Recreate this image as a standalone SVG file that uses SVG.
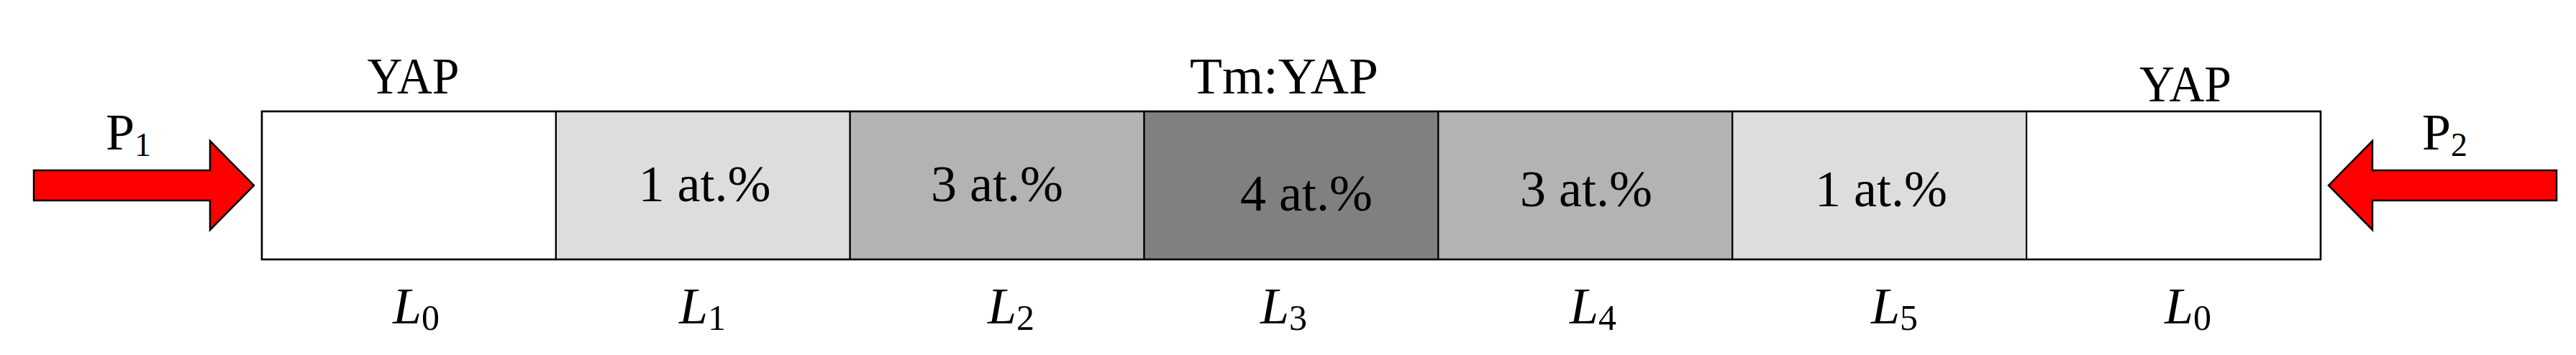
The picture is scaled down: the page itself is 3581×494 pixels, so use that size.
<svg xmlns="http://www.w3.org/2000/svg" width="3581" height="494" viewBox="0 0 3581 494">
<style>
.seg{stroke:#000;stroke-width:2.2}
.t{font-family:"Liberation Serif","Times New Roman",serif;font-size:72px;fill:#000}
.it{font-style:italic}
.sub{font-style:normal;font-size:50px}
.psub{font-size:46px}
.arrow{fill:#ff0000;stroke:#000;stroke-width:2.5;stroke-linejoin:miter}
</style>
<rect x="0" y="0" width="3581" height="494" fill="#fff"/>
<g id="seg0"><rect class="seg" x="364" y="155" width="408.9" height="206" fill="#fff"/>
<text class="t" x="574.5" y="130" text-anchor="middle" textLength="128" lengthAdjust="spacingAndGlyphs">YAP</text>
<text class="t it" x="546" y="450">L<tspan class="sub" dy="9">0</tspan></text></g>
<g id="seg1"><rect class="seg" x="772.9" y="155" width="408.8" height="206" fill="#dddddd"/>
<text class="t" x="979.5" y="280" text-anchor="middle">1 at.%</text>
<text class="t it" x="944" y="450">L<tspan class="sub" dy="9">1</tspan></text></g>
<g id="seg2"><rect class="seg" x="1181.7" y="155" width="408.9" height="206" fill="#b3b3b3"/>
<text class="t" x="1386" y="280" text-anchor="middle">3 at.%</text>
<text class="t it" x="1373" y="450">L<tspan class="sub" dy="9">2</tspan></text></g>
<g id="seg3"><rect class="seg" x="1590.6" y="155" width="408.8" height="206" fill="#808080"/>
<text class="t" x="1785" y="130" text-anchor="middle" textLength="262" lengthAdjust="spacingAndGlyphs">Tm:YAP</text>
<text class="t" x="1816" y="293" text-anchor="middle">4 at.%</text>
<text class="t it" x="1752" y="450">L<tspan class="sub" dy="9">3</tspan></text></g>
<g id="seg4"><rect class="seg" x="1999.4" y="155" width="408.9" height="206" fill="#b3b3b3"/>
<text class="t" x="2205" y="287" text-anchor="middle">3 at.%</text>
<text class="t it" x="2182" y="450">L<tspan class="sub" dy="9">4</tspan></text></g>
<g id="seg5"><rect class="seg" x="2408.3" y="155" width="408.8" height="206" fill="#dddddd"/>
<text class="t" x="2615" y="287" text-anchor="middle">1 at.%</text>
<text class="t it" x="2601" y="450">L<tspan class="sub" dy="9">5</tspan></text></g>
<g id="seg6"><rect class="seg" x="2817.1" y="155" width="408.9" height="206" fill="#fff"/>
<text class="t" x="3038" y="141" text-anchor="middle" textLength="128" lengthAdjust="spacingAndGlyphs">YAP</text>
<text class="t it" x="3009" y="450">L<tspan class="sub" dy="9">0</tspan></text></g>
<rect x="364" y="155" width="2862" height="206" fill="none" stroke="#000" stroke-width="2.5"/>
<g id="connectors">
<g id="p1"><polygon class="arrow" points="47,237 292,237 292,196 353,258 292,320 292,279 47,279"/>
<text class="t" x="147" y="208">P<tspan class="psub" dy="9">1</tspan></text></g>
<g id="p2"><polygon class="arrow" points="3554,237 3298,237 3298,196 3237,258 3298,320 3298,279 3554,279"/>
<text class="t" x="3367" y="208">P<tspan class="psub" dy="9">2</tspan></text></g>
</g>
</svg>
